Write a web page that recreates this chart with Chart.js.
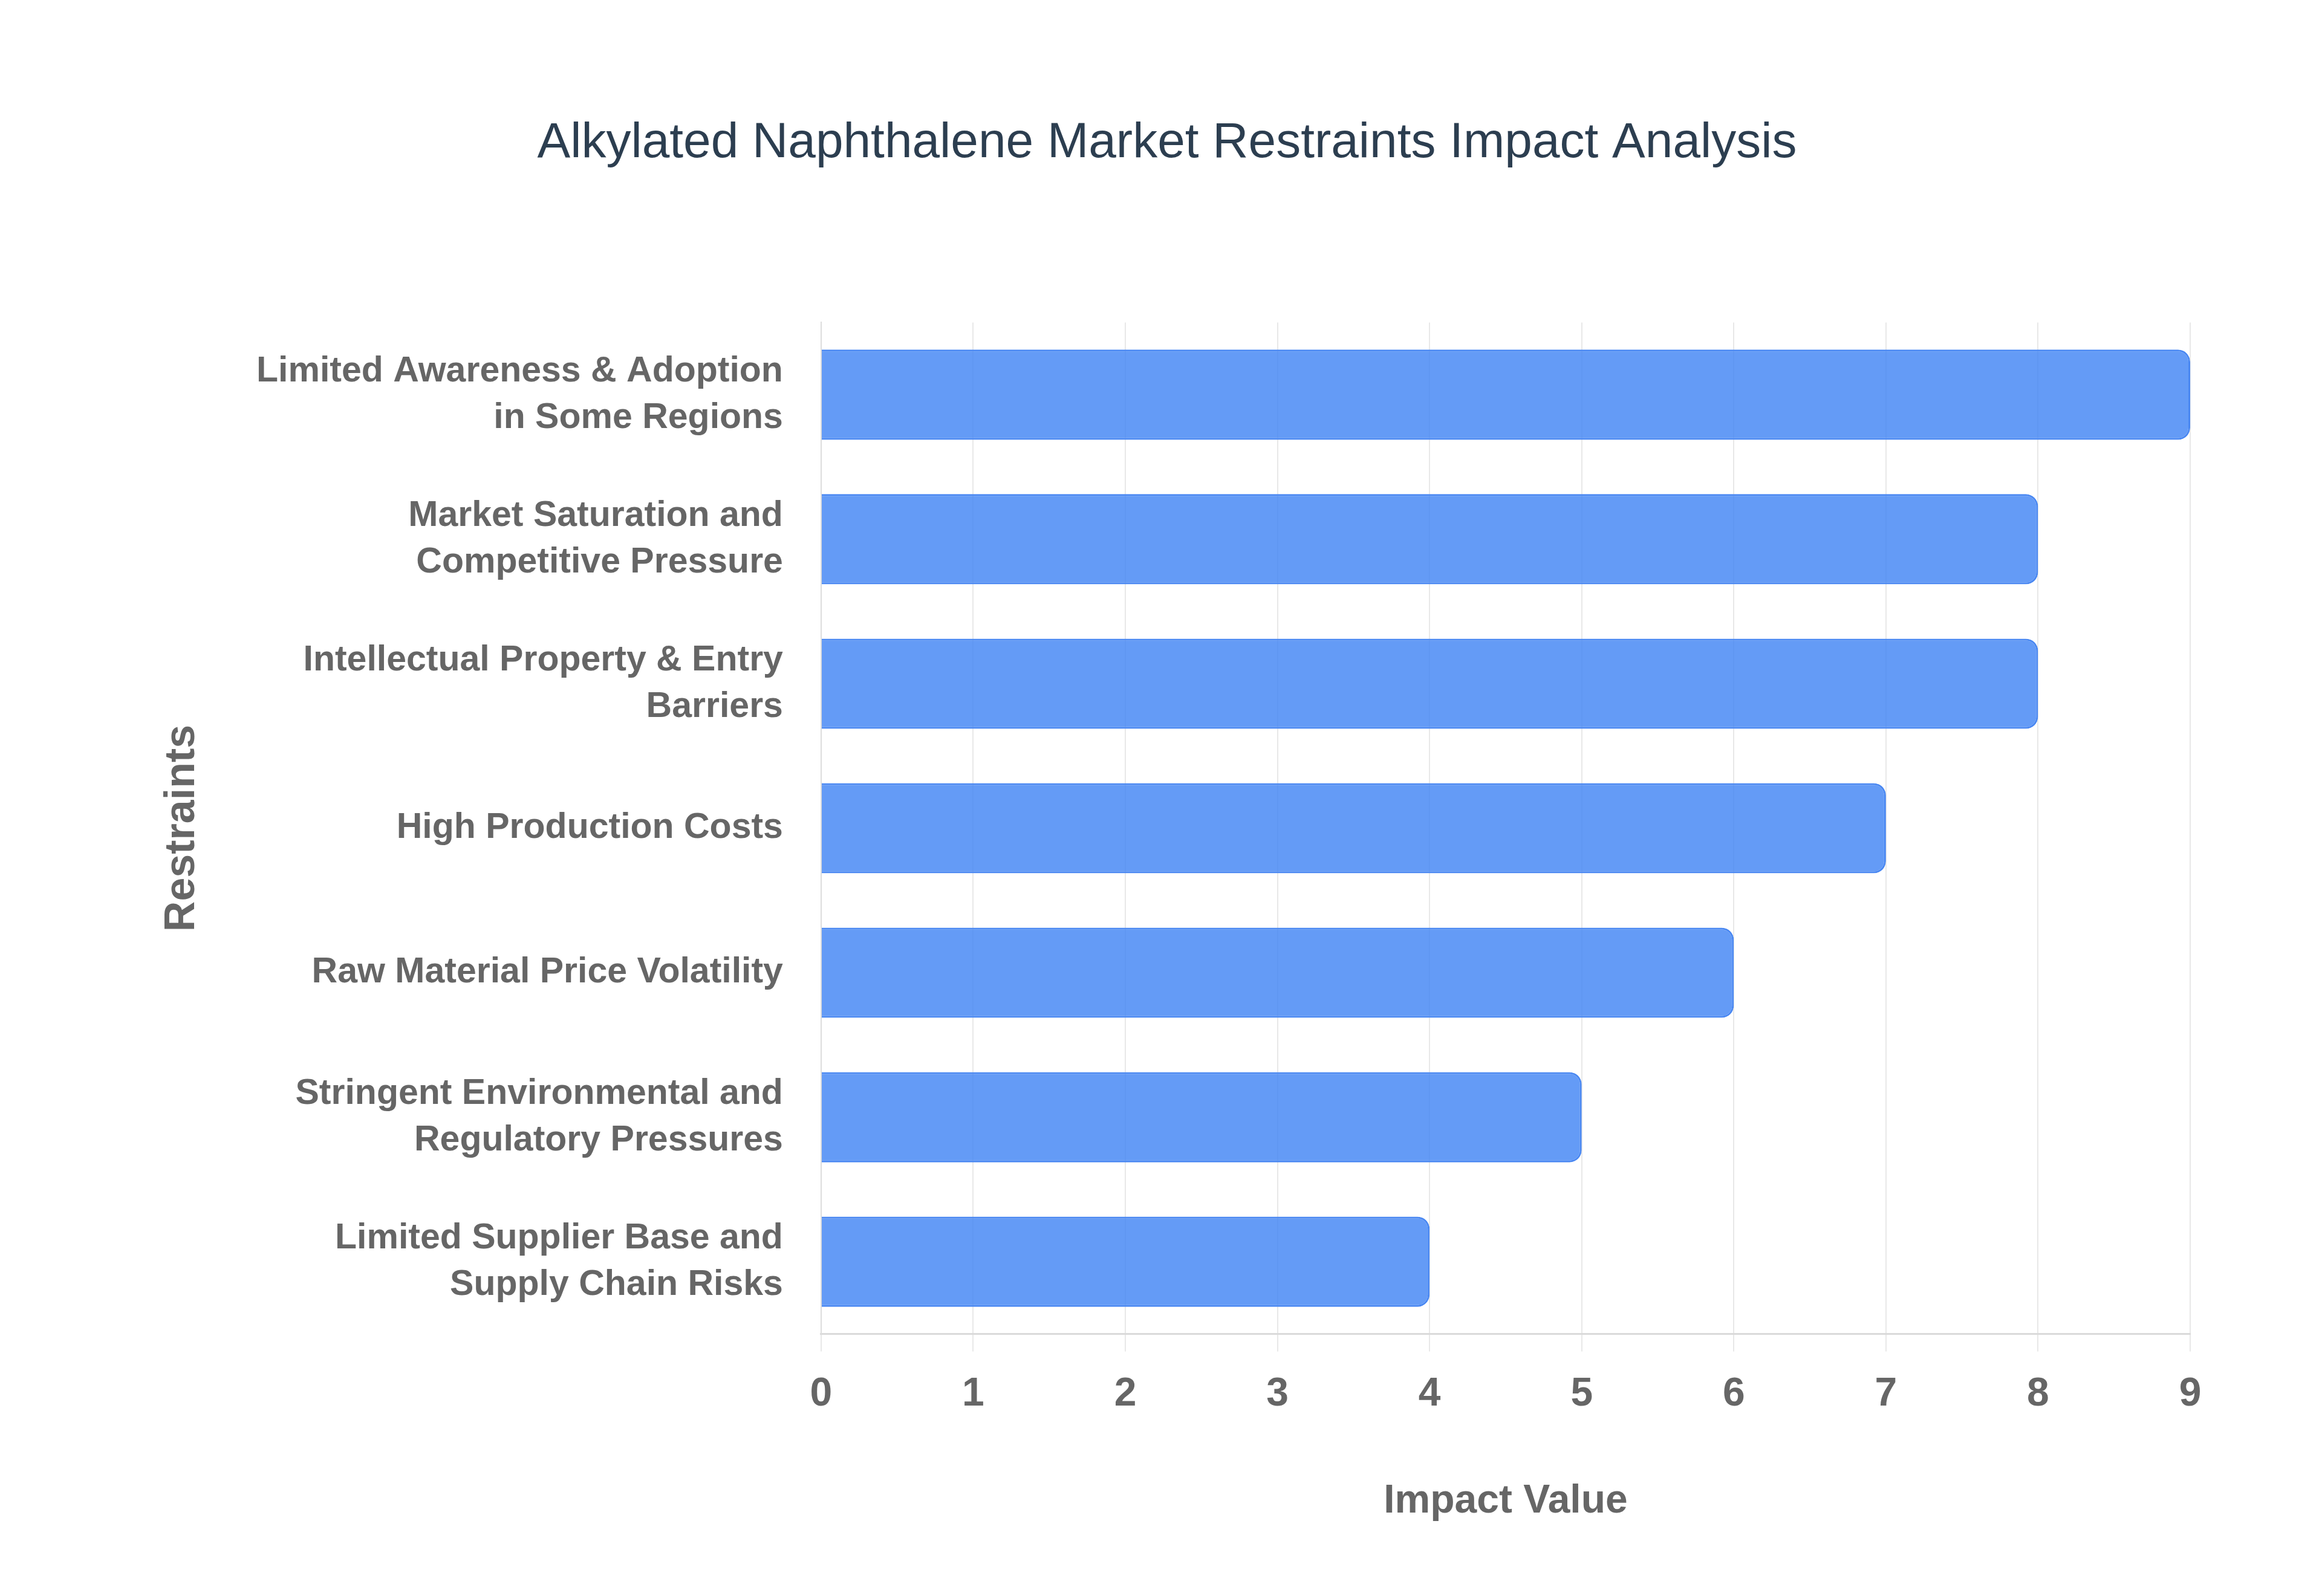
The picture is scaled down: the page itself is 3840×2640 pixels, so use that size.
<!DOCTYPE html>
<html>
<head>
<meta charset="utf-8">
<script src="https://cdn.jsdelivr.net/npm/chart.js@4.4.0/dist/chart.umd.min.js"></script>
<style>
  html, body { margin: 0; padding: 0; background: #ffffff; }
  #wrap { width: 3840px; height: 2640px; }
</style>
</head>
<body>
<div id="wrap"><canvas id="restraintsChart" width="3840" height="2640"></canvas></div>
<script>
var chartTitle = 'Alkylated Naphthalene Market Restraints Impact Analysis';
var restraints = [
  ['Limited Awareness & Adoption', 'in Some Regions'],
  ['Market Saturation and', 'Competitive Pressure'],
  ['Intellectual Property & Entry', 'Barriers'],
  'High Production Costs',
  'Raw Material Price Volatility',
  ['Stringent Environmental and', 'Regulatory Pressures'],
  ['Limited Supplier Base and', 'Supply Chain Risks']
];
var impactValues = [9, 8, 8, 7, 6, 5, 4];
var xAxisLabel = 'Impact Value';
var yAxisLabel = 'Restraints';

var fontFam = '"Liberation Sans", Arial, Helvetica, sans-serif';

var ctx = document.getElementById('restraintsChart').getContext('2d');
var restraintsChart = new Chart(ctx, {
    type: 'bar',
    data: {
        labels: restraints,
        datasets: [
        {
            label: 'Impact',
            data: impactValues,
            backgroundColor: 'rgba(66, 133, 244, 0.82)',
            borderColor: '#4a88f2',
            borderWidth: 3,
            borderRadius: 20,
            barPercentage: 0.78,
            categoryPercentage: 0.8
        }
        ]
    },
    options: {
        indexAxis: 'y',
        responsive: false,
        animation: false,
        devicePixelRatio: 1,
        layout: {
            padding: { top: 0, left: 238, right: 218, bottom: 93 }
        },
        plugins: {
            legend: { display: false },
            tooltip: { enabled: false },
            title: {
                display: true,
                text: chartTitle,
                color: '#2c3e50',
                font: { family: fontFam, size: 82, weight: 'normal', lineHeight: 1.2 },
                padding: { top: 188, bottom: 247 }
            }
        },
        scales: {
            x: {
                min: 0,
                max: 9,
                ticks: {
                    stepSize: 1,
                    color: '#666666',
                    padding: 32,
                    font: { family: fontFam, size: 66, weight: 'bold', lineHeight: 1.2 }
                },
                grid: {
                    color: '#e8e8e8',
                    lineWidth: 2,
                    tickLength: 29
                },
                border: { color: '#dadada', width: 3 },
                title: {
                    display: true,
                    text: xAxisLabel,
                    color: '#666666',
                    font: { family: fontFam, size: 66, weight: 'bold', lineHeight: 1.2 },
                    padding: { top: 65, bottom: 24 }
                }
            },
            y: {
                ticks: {
                    color: '#666666',
                    padding: 63,
                    font: { family: fontFam, size: 59, weight: 'bold', lineHeight: 1.3 }
                },
                grid: { display: false, drawTicks: false },
                border: { color: '#dddddd', width: 2 },
                title: {
                    display: true,
                    text: yAxisLabel,
                    color: '#666666',
                    font: { family: fontFam, size: 70, weight: 'bold', lineHeight: 1.2 },
                    padding: { top: 22, bottom: 17 }
                }
            }
        }
    }
});
</script>
</body>
</html>
